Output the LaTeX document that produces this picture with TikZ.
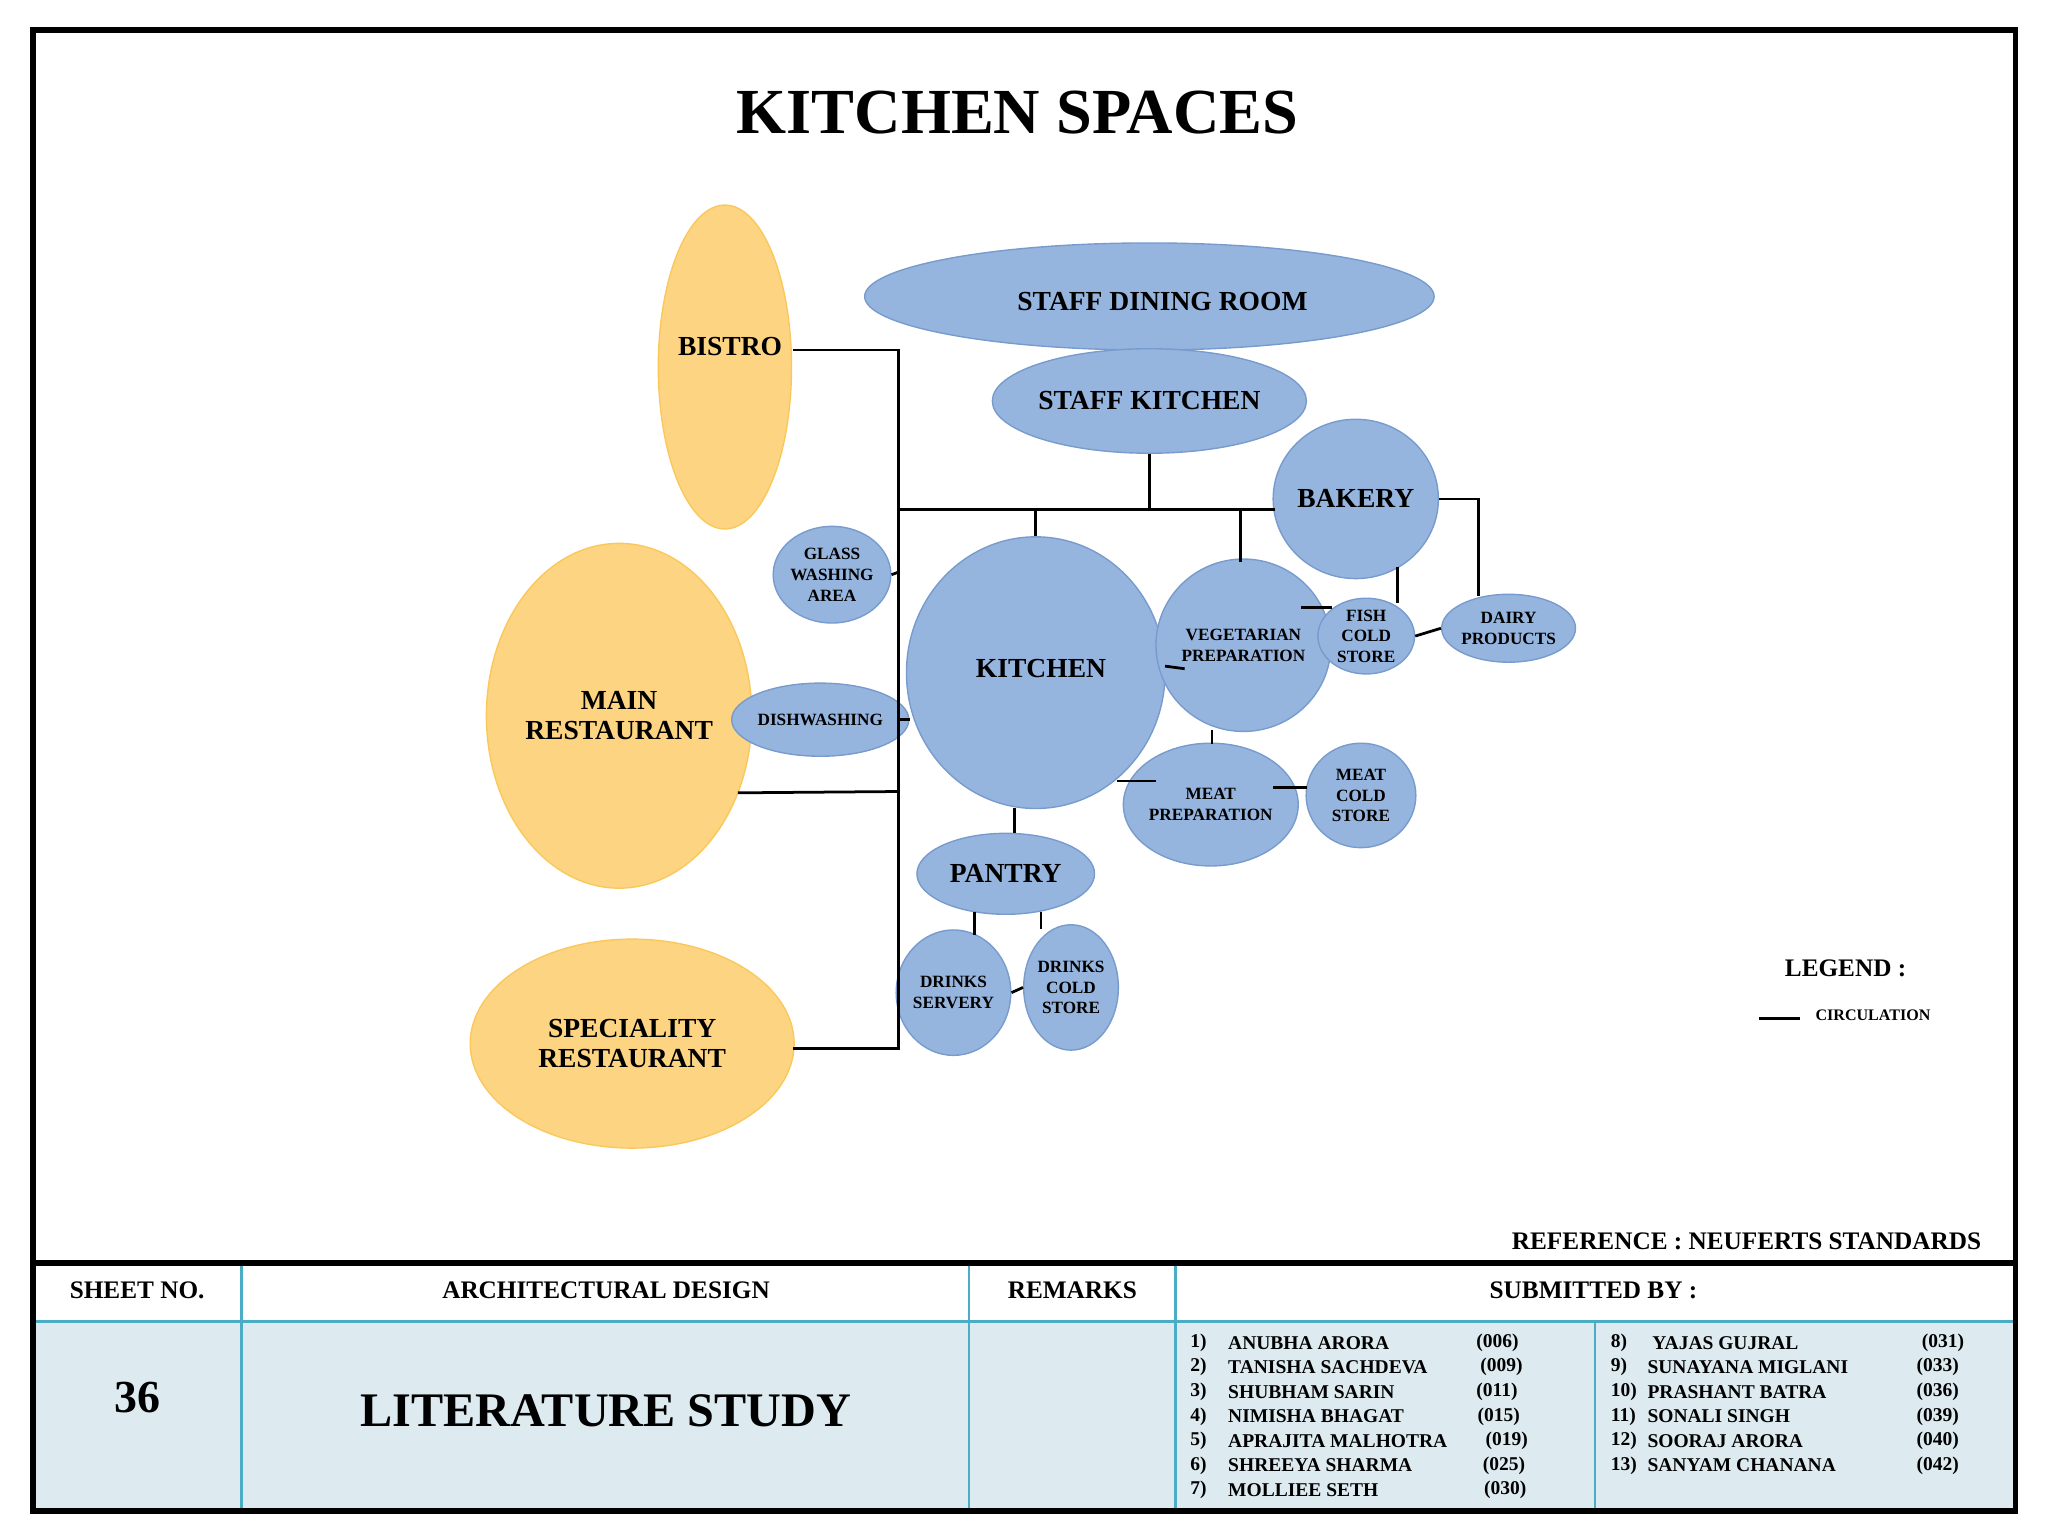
\documentclass[tikz,border=0pt]{standalone}
\usepackage{fontspec}
\setmainfont{Liberation Serif}
\usetikzlibrary{shapes.geometric}
\newdimen\uu \uu=0.02cm
\definecolor{bfill}{RGB}{149,180,222}
\definecolor{bdraw}{RGB}{120,155,205}
\definecolor{ofill}{RGB}{253,213,130}
\definecolor{odraw}{RGB}{250,200,90}
\definecolor{tblue}{RGB}{75,172,198}
\definecolor{tfill}{RGB}{221,235,241}
\tikzset{
 bub/.style={ellipse,inner sep=0pt,align=center,font=\bfseries\fontsize{12}{13}\selectfont,draw=bdraw,fill=bfill,line width=0.6pt},
 sbub/.style={bub,font=\bfseries\fontsize{7.5}{9}\selectfont},
 obub/.style={bub,draw=odraw,fill=ofill},
 circ/.style={line width=1.2pt,black},
 hd/.style={font=\bfseries\fontsize{11}{13}\selectfont},
 nm/.style={font=\bfseries\fontsize{8.5}{10}\selectfont,anchor=west,inner sep=0pt}
}
\begin{document}
\begin{tikzpicture}[x=0.02cm,y=-0.02cm]
\useasboundingbox (0,0) rectangle (1568,1176);
\fill[tfill] (27,1012) rectangle (1541,1155);
\node[font=\bfseries\fontsize{28}{30}\selectfont] (title) at (779,86) {KITCHEN SPACES};
\node[obub,minimum width=102\uu,minimum height=248\uu] (bistro) at (555,281) {};
\node[font=\bfseries\fontsize{12}{13}\selectfont] (bistrot) at (559,265) {BISTRO};
\node[bub,minimum width=436\uu,minimum height=82\uu] (sdr) at (880,227) {};
\node[font=\bfseries\fontsize{12}{13}\selectfont] (sdrt) at (890,231) {STAFF DINING ROOM};
\node[bub,minimum width=174\uu,minimum height=80\uu] (sk) at (880,307) {STAFF KITCHEN};
\node[bub,minimum width=126\uu,minimum height=122\uu] (bak) at (1038,382) {BAKERY};
\node[sbub,minimum width=72\uu,minimum height=74\uu] (glass) at (637,440) {GLASS\\WASHING\\AREA};
\node[obub,minimum width=196\uu,minimum height=264\uu] (main) at (474,548) {MAIN\\RESTAURANT};
\node[sbub,minimum width=106\uu,minimum height=56\uu] (dish) at (628,551) {DISHWASHING};
\node[bub,minimum width=198\uu,minimum height=208\uu] (kit) at (793,515) {};
\node[font=\bfseries\fontsize{12}{13}\selectfont] (kitt) at (797,512) {KITCHEN};
\node[sbub,minimum width=92\uu,minimum height=132\uu] (veg) at (952,494) {VEGETARIAN\\PREPARATION};
\node[sbub,minimum width=74\uu,minimum height=58\uu] (fish) at (1046,487) {FISH\\COLD\\STORE};
\node[sbub,minimum width=86\uu,minimum height=52\uu] (dairy) at (1155,481) {DAIRY\\PRODUCTS};
\node[sbub,minimum width=96\uu,minimum height=94\uu] (meat) at (927,616) {MEAT\\PREPARATION};
\node[sbub,minimum width=84\uu,minimum height=80\uu] (mcold) at (1042,609) {MEAT\\COLD\\STORE};
\node[bub,minimum width=136\uu,minimum height=62\uu] (pan) at (770,669) {PANTRY};
\node[sbub,minimum width=70\uu,minimum height=96\uu] (dserv) at (730,760) {DRINKS\\SERVERY};
\node[sbub,minimum width=70\uu,minimum height=96\uu] (dcold) at (820,756) {DRINKS\\COLD\\STORE};
\node[obub,minimum width=248\uu,minimum height=160\uu] (spec) at (484,799) {SPECIALITY\\RESTAURANT};
% circulation
\coordinate (s1) at (688,268); \coordinate (s2) at (688,803);
\coordinate (h1) at (688,390); \coordinate (h2) at (976,390);
\draw[circ] (607,268) -- (s1) -- (s2) -- (607,803);
\draw[circ] (h1) -- (h2);
\draw[circ] (sk.south) -- (880,390);
\draw[circ] (793,390) -- (kit.north);
\draw[circ] (950,390) -- (950,430);
\draw[circ] (bak.east) -- (1132,382) -- (1132,456);
\draw[circ] (1070,434) -- (1070,462);
\draw[circ] (fish.east) -- (dairy.west);
\draw[circ] (996,465) -- (1020,465);
\draw[circ] (892,510) -- (907,512);
\draw[circ] (928,559) -- (928,570);
\draw[circ] (855,598) -- (885,598);
\draw[circ] (975,603) -- (1001,603);
\draw[circ] (777,619) -- (777,638);
\draw[circ] (746,698) -- (746,716);
\draw[circ] (797,698) -- (797,711);
\draw[circ] (dserv.east) -- (dcold.west);
\draw[circ] (glass.east) -- (688,438);
\draw[circ] (dish.east) -- (688,551);
\draw[circ] (565,607) -- (688,606);
% legend
\node[hd] (leg) at (1413,741) {LEGEND :};
\coordinate (l1) at (1347,780); \coordinate (l2) at (1378,780);
\draw[circ] (l1) -- (l2);
\node[font=\bfseries\fontsize{7}{8}\selectfont] (legt) at (1434,777) {CIRCULATION};
\node[hd,anchor=east] (ref) at (1523,950) {REFERENCE : NEUFERTS STANDARDS};
% table
\draw[tblue,line width=1.2pt] (27,1012) -- (1541,1012);
\draw[tblue,line width=1pt] (185,967) -- (185,1155) (742,967) -- (742,1155) (900,967) -- (900,1155) (1221,1012) -- (1221,1155);
\draw[line width=2.5pt] (25,967) -- (1543,967);
\draw[line width=2.5pt] (25,23) rectangle (1543,1157);
\node[hd] (h1t) at (105,988) {SHEET NO.};
\node[hd] (h2t) at (464,988) {ARCHITECTURAL DESIGN};
\node[hd] (h3t) at (821,988) {REMARKS};
\node[hd] (h4t) at (1220,988) {SUBMITTED BY :};
\node[font=\bfseries\fontsize{20}{22}\selectfont] (num) at (105,1070) {36};
\node[font=\bfseries\fontsize{21}{24}\selectfont] (lit) at (464,1080) {LITERATURE STUDY};
\foreach \i/\n/\c/\cx [count=\k from 0] in {1/ANUBHA ARORA/006/1130,2/TANISHA SACHDEVA/009/1133,3/SHUBHAM SARIN/011/1130,4/NIMISHA BHAGAT/015/1131,5/APRAJITA MALHOTRA/019/1137,6/SHREEYA SHARMA/025/1135,7/MOLLIEE SETH/030/1136}{
 \node[nm] (ln\k) at (911,1028+18.8*\k) {\i)};
 \node[nm] (lm\k) at (940,1028+18.8*\k) {\n};
 \node[nm] (lc\k) at (\cx,1028+18.8*\k) {(\c)};
}
\foreach \i/\n/\c/\cx [count=\k from 0] in {8/\ YAJAS GUJRAL/031/1471,9/SUNAYANA MIGLANI/033/1467,10/PRASHANT BATRA/036/1467,11/SONALI SINGH/039/1467,12/SOORAJ ARORA/040/1467,13/SANYAM CHANANA/042/1467}{
 \node[nm] (rn\k) at (1233,1028+18.8*\k) {\i)};
 \node[nm] (rm\k) at (1261,1028+18.8*\k) {\n};
 \node[nm] (rc\k) at (\cx,1028+18.8*\k) {(\c)};
}
\end{tikzpicture}
\end{document}
